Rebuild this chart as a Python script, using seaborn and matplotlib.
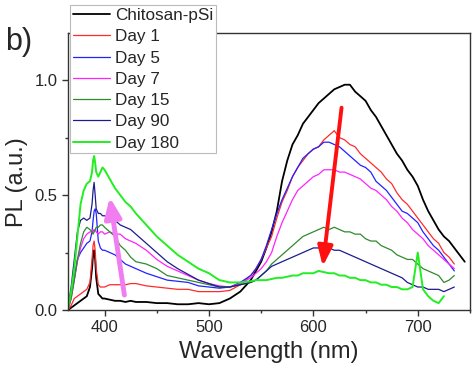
import numpy as np
import pandas as pd
import matplotlib
matplotlib.use("Agg")
import matplotlib.pyplot as plt
import seaborn as sns
from matplotlib.ticker import MultipleLocator

nan = np.nan

wavelength = [
    365, 368, 371, 374, 377, 380, 383, 386, 388, 389,
    390, 391, 392, 394, 396, 398, 400, 405, 410, 415,
    420, 425, 430, 440, 450, 460, 470, 480, 490, 500,
    510, 520, 530, 540, 545, 550, 555, 560, 565, 570,
    575, 580, 585, 590, 595, 600, 605, 610, 615, 620,
    625, 630, 635, 640, 645, 650, 655, 660, 665, 670,
    675, 680, 685, 690, 695, 700, 705, 710, 715, 720,
    725, 730, 735, 740, 745,
]

chitosan_psi = [
    0.00, 0.01, 0.02, 0.03, 0.04, 0.05, 0.06, 0.10, 0.18, 0.24,
    0.26, 0.22, 0.14, 0.07, 0.06, 0.05, 0.05, 0.045, 0.04, 0.04,
    0.035, 0.04, 0.035, 0.035, 0.03, 0.03, 0.025, 0.025, 0.03, 0.025,
    0.03, 0.05, 0.08, 0.13, 0.17, 0.21, 0.27, 0.34, 0.43, 0.56,
    0.65, 0.72, 0.76, 0.81, 0.84, 0.87, 0.90, 0.92, 0.94, 0.96,
    0.97, 0.98, 0.98, 0.95, 0.93, 0.91, 0.87, 0.84, 0.80, 0.76,
    0.72, 0.68, 0.65, 0.61, 0.58, 0.54, 0.48, 0.43, 0.39, 0.35,
    0.32, 0.30, 0.27, 0.24, 0.21,
]

day1 = [
    0.00, 0.02, 0.05, 0.06, 0.07, 0.08, 0.09, 0.12, 0.22, 0.28,
    0.30, 0.26, 0.18, 0.11, 0.10, 0.10, 0.10, 0.11, 0.11, 0.11,
    0.11, 0.115, 0.115, 0.105, 0.10, 0.095, 0.09, 0.09, 0.08, 0.08,
    0.08, 0.085, 0.11, 0.15, 0.18, 0.22, 0.27, 0.32, 0.40, 0.47,
    0.52, 0.58, 0.62, 0.65, 0.68, 0.70, 0.71, 0.74, 0.76, 0.78,
    0.75, 0.74, 0.72, 0.71, 0.68, 0.66, 0.64, 0.62, 0.60, 0.57,
    0.55, 0.51, 0.48, 0.46, 0.43, 0.40, 0.37, 0.34, 0.31, 0.29,
    0.25, 0.23, 0.20, nan, nan,
]

day5 = [
    0.01, 0.06, 0.14, 0.22, 0.25, 0.27, 0.29, 0.30, 0.34, 0.39,
    0.43, 0.44, 0.42, 0.30, 0.27, 0.26, 0.26, 0.25, 0.24, 0.22,
    0.20, 0.19, 0.18, 0.16, 0.145, 0.13, 0.125, 0.12, 0.105, 0.10,
    0.095, 0.10, 0.12, 0.15, 0.18, 0.22, 0.28, 0.35, 0.42, 0.48,
    0.53, 0.58, 0.62, 0.66, 0.68, 0.70, 0.71, 0.73, 0.73, 0.72,
    0.71, 0.69, 0.67, 0.65, 0.63, 0.62, 0.60, 0.56, 0.54, 0.52,
    0.49, 0.46, 0.43, 0.42, 0.40, 0.38, 0.34, 0.31, 0.28, 0.26,
    0.23, 0.20, 0.17, nan, nan,
]

day7 = [
    0.00, 0.05, 0.13, 0.21, 0.27, 0.31, 0.33, 0.34, 0.34, 0.35,
    0.34, 0.35, 0.34, 0.33, 0.34, 0.34, 0.33, 0.34, 0.33, 0.33,
    0.31, 0.30, 0.29, 0.26, 0.22, 0.19, 0.17, 0.15, 0.13, 0.115,
    0.105, 0.10, 0.115, 0.14, 0.16, 0.18, 0.21, 0.25, 0.32, 0.38,
    0.43, 0.48, 0.52, 0.54, 0.56, 0.58, 0.59, 0.61, 0.61, 0.61,
    0.60, 0.60, 0.59, 0.58, 0.57, 0.55, 0.53, 0.52, 0.50, 0.48,
    0.45, 0.43, 0.40, 0.38, 0.35, 0.33, 0.31, 0.28, 0.26, 0.24,
    0.22, 0.20, 0.18, nan, nan,
]

day15 = [
    0.00, 0.05, 0.13, 0.22, 0.29, 0.34, 0.36, 0.35, 0.34, 0.33,
    0.34, 0.35, 0.36, 0.36, 0.37, 0.37, 0.36, 0.34, 0.32, 0.28,
    0.26, 0.23, 0.21, 0.20, 0.18, 0.15, 0.14, 0.13, 0.12, 0.11,
    0.10, 0.10, 0.11, 0.12, 0.13, 0.15, 0.17, 0.20, 0.22, 0.24,
    0.26, 0.28, 0.30, 0.32, 0.33, 0.34, 0.35, 0.36, 0.35, 0.36,
    0.35, 0.34, 0.34, 0.33, 0.33, 0.31, 0.30, 0.30, 0.28, 0.27,
    0.26, 0.24, 0.23, 0.22, 0.22, 0.20, 0.18, 0.17, 0.16, 0.15,
    0.12, 0.13, 0.15, nan, nan,
]

day90 = [
    0.01, 0.10, 0.22, 0.34, 0.39, 0.40, 0.39, 0.40, 0.46, 0.52,
    0.555, 0.50, 0.44, 0.42, 0.42, 0.41, 0.41, 0.40, 0.39, 0.37,
    0.36, 0.35, 0.33, 0.29, 0.25, 0.21, 0.18, 0.155, 0.13, 0.115,
    0.10, 0.10, 0.11, 0.12, 0.13, 0.15, 0.17, 0.19, 0.20, 0.21,
    0.22, 0.23, 0.24, 0.25, 0.26, 0.27, 0.27, 0.27, 0.27, 0.26,
    0.26, 0.25, 0.24, 0.23, 0.22, 0.21, 0.20, 0.19, 0.18, 0.17,
    0.16, 0.15, 0.14, 0.12, 0.11, 0.10, 0.10, 0.09, 0.09, 0.09,
    0.08, 0.09, 0.10, nan, nan,
]

day180 = [
    0.01, 0.08, 0.18, 0.32, 0.46, 0.52, 0.55, 0.56, 0.60, 0.65,
    0.67, 0.64, 0.60, 0.58, 0.60, 0.62, 0.61, 0.57, 0.53, 0.50,
    0.47, 0.45, 0.42, 0.37, 0.32, 0.28, 0.24, 0.21, 0.18, 0.16,
    0.13, 0.12, 0.12, 0.125, 0.13, 0.13, 0.13, 0.135, 0.14, 0.14,
    0.145, 0.15, 0.15, 0.16, 0.16, 0.16, 0.17, 0.165, 0.16, 0.16,
    0.15, 0.15, 0.14, 0.14, 0.13, 0.13, 0.12, 0.12, 0.11, 0.11,
    0.10, 0.10, 0.09, 0.09, 0.10, 0.25, 0.09, 0.06, 0.04, 0.03,
    0.06, nan, nan, nan, nan,
]

labels = ["Chitosan-pSi", "Day 1", "Day 5", "Day 7", "Day 15", "Day 90", "Day 180"]
series = [chitosan_psi, day1, day5, day7, day15, day90, day180]
colors = ["#000000", "#ff2a2a", "#2222ff", "#ff22ff", "#2e8b2e", "#1c1c8e", "#22ee22"]
widths = [1.3, 0.9, 0.9, 0.9, 0.9, 0.9, 1.4]

sns.set_style("ticks")
plt.rcParams["font.family"] = ["Liberation Sans", "DejaVu Sans"]

fig = plt.figure(figsize=(4.74, 3.75), dpi=100)
ax = fig.add_axes([0.1435, 0.1733, 0.848, 0.7387])

for name, vals, c, lw in zip(labels, series, colors, widths):
    df = pd.DataFrame({"wl": wavelength, "pl": vals}).dropna()
    sns.lineplot(data=df, x="wl", y="pl", color=c, linewidth=lw, label=name,
                 estimator=None, errorbar=None, sort=False, ax=ax)

# trend arrows
ax.annotate("", xy=(405, 0.49), xytext=(419, 0.065),
            arrowprops=dict(arrowstyle="-|>,head_length=1.2,head_width=0.5",
                            color="#f07ef0", lw=3.5, shrinkA=0, shrinkB=0))
ax.annotate("", xy=(609, 0.19), xytext=(627, 0.88),
            arrowprops=dict(arrowstyle="-|>,head_length=1.2,head_width=0.45",
                            color="#ff1010", lw=2.8, shrinkA=0, shrinkB=0))

ax.set_xlim(365, 750)
ax.set_ylim(0, 1.205)
ax.xaxis.set_major_locator(MultipleLocator(100))
ax.xaxis.set_minor_locator(MultipleLocator(50))
ax.yaxis.set_major_locator(MultipleLocator(0.5))
ax.yaxis.set_minor_locator(MultipleLocator(0.25))
ax.tick_params(which="both", direction="out", top=False, right=False,
               labelsize=12, color="#333333", width=1)
ax.tick_params(which="major", length=4)
ax.tick_params(which="minor", length=2.5)
for s in ax.spines.values():
    s.set_color("#333333")
    s.set_linewidth(1)

ax.set_xlabel("Wavelength (nm)", fontsize=17, labelpad=4)
ax.set_ylabel("PL (a.u.)", fontsize=17)
ax.yaxis.set_label_coords(-0.10, 0.46)

leg = ax.legend(loc="upper left", bbox_to_anchor=(0.005, 1.10), fontsize=12.3,
                frameon=True, fancybox=False, edgecolor="#bbbbbb", framealpha=1,
                borderpad=0.15, labelspacing=0.37, handlelength=2.2,
                handletextpad=0.3, borderaxespad=0)
leg.get_frame().set_linewidth(0.8)

fig.text(0.011, 0.867, "b)", fontsize=22)

fig.savefig("out.png", dpi=100)
